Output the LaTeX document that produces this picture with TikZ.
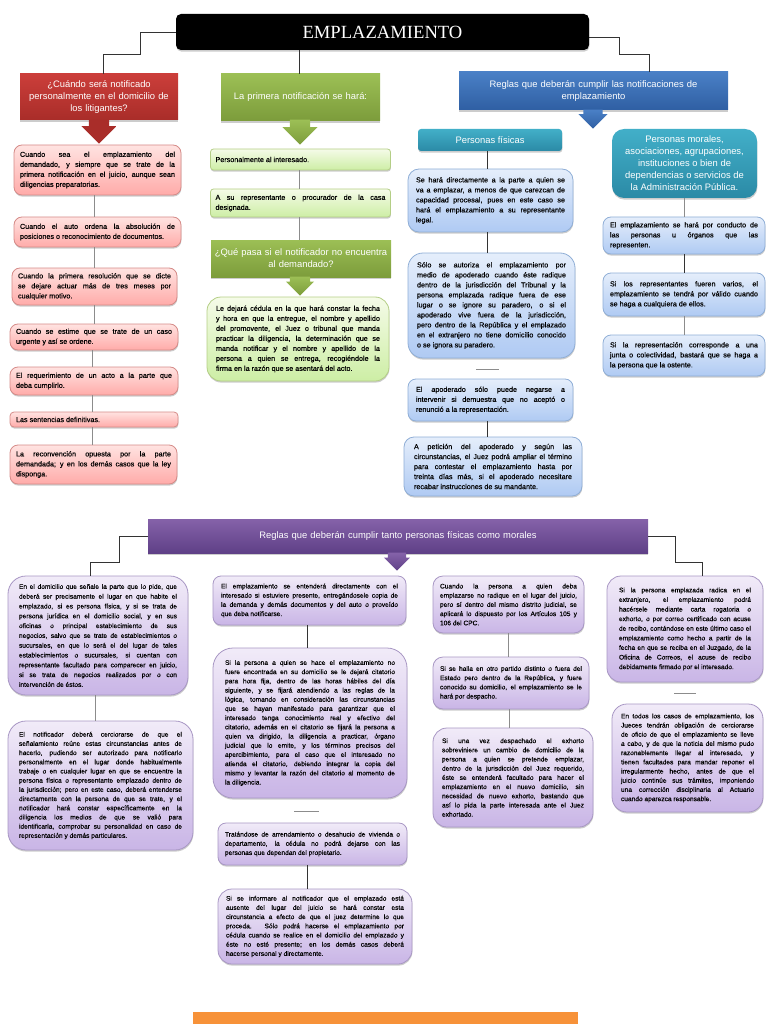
\documentclass[tikz,border=0pt]{standalone}
\usepackage{fontspec}
\setmainfont{Liberation Sans}
\newfontfamily\titlefont{Liberation Serif}
\newfontfamily\itemfont[FakeBold=0.25]{Liberation Sans}
\usetikzlibrary{shadows,shapes.arrows}

\definecolor{redtop}{HTML}{CB3E3A}
\definecolor{redbot}{HTML}{A92D29}
\definecolor{greentop}{HTML}{9CBF55}
\definecolor{greenbot}{HTML}{7C9C3B}
\definecolor{bluetop}{HTML}{4A80C6}
\definecolor{bluebot}{HTML}{2F5FA3}
\definecolor{violettop}{HTML}{8562A9}
\definecolor{violetbot}{HTML}{5F4087}
\definecolor{tealtop}{HTML}{42AFC8}
\definecolor{tealbot}{HTML}{2B8AA6}
\definecolor{orangefoot}{HTML}{F79239}
\definecolor{pinktop}{HTML}{FFE3E1}
\definecolor{pinkbot}{HTML}{FFABA9}
\definecolor{pinkedge}{HTML}{D58B88}
\definecolor{limetop}{HTML}{F5FBE8}
\definecolor{limebot}{HTML}{CDEEA5}
\definecolor{limeedge}{HTML}{B4CE86}
\definecolor{skytop}{HTML}{E5EEFB}
\definecolor{skybot}{HTML}{AFCAF3}
\definecolor{skyedge}{HTML}{8FAED6}
\definecolor{lilactop}{HTML}{F1EBF8}
\definecolor{lilacbot}{HTML}{C9B5E6}
\definecolor{lilacedge}{HTML}{A897C4}

\newcommand{\nl}{\linebreak}

\begin{document}
\begin{tikzpicture}
  [x=1pt,y=-1pt,
   box/.style n args={3}{text width=#1pt-2*#3pt,minimum height=#2pt,inner xsep=#3pt,inner ysep=0pt},
   leading/.style={font=\itemfont\fontsize{6.6}{#1}\selectfont\sloppy},
   softshadow/.style={drop shadow={shadow xshift=.4pt,shadow yshift=-1.6pt,fill=black!40}},
   head/.style={rectangle,softshadow,text=white,align=center,inner sep=0pt,
                font=\fontsize{9.4}{12}\selectfont},
   redhead/.style={head,top color=redtop,bottom color=redbot},
   greenhead/.style={head,top color=greentop,bottom color=greenbot},
   bluehead/.style={head,top color=bluetop,bottom color=bluebot},
   violethead/.style={head,top color=violettop,bottom color=violetbot},
   tealhead/.style={head,rounded corners=3pt,top color=tealtop,bottom color=tealbot},
   item/.style={rectangle,rounded corners=8pt,line width=.8pt,softshadow,align=justify,
                text=black,font=\itemfont\fontsize{7.2}{10}\selectfont\sloppy},
   pinkitem/.style={item,draw=pinkedge,top color=pinktop,bottom color=pinkbot},
   limeitem/.style={item,draw=limeedge,top color=limetop,bottom color=limebot},
   skyitem/.style={item,draw=skyedge,top color=skytop,bottom color=skybot},
   lilacitem/.style={item,draw=lilacedge,top color=lilactop,bottom color=lilacbot,
                     font=\itemfont\fontsize{6.6}{9.2}\selectfont\sloppy},
   downarrow/.style={single arrow,shape border rotate=270,anchor=tip,inner ysep=0pt,
                     single arrow tip angle=90},
   link/.style={draw=black!80,line width=.9pt},
   softlink/.style={draw=black!45,line width=.9pt}]
  \useasboundingbox (0,0) rectangle (768,1024);

  % title
  \node (title) at (382.5,32) [rectangle,rounded corners=5pt,fill=black,text=white,
        minimum width=413pt,minimum height=36pt,softshadow,
        font=\titlefont\fontsize{18.6}{20}\selectfont] {EMPLAZAMIENTO};

  % first row of headings
  \node (cuando) at (99,97) [redhead,text width=150pt,minimum width=158pt,minimum height=46pt]
        {¿Cuándo será notificado\\personalmente en el domicilio de\\los litigantes?};
  \node (primera) at (300.5,97.5) [greenhead,text width=150pt,minimum width=159pt,minimum height=47pt]
        {La primera notificación se hará:};
  \node (reglas) at (593.5,91) [bluehead,text width=260pt,minimum width=269pt,minimum height=38pt]
        {Reglas que deberán cumplir las notificaciones de\\emplazamiento};
  \node (cuandoarrow) at (99,144) [downarrow,top color=redbot,bottom color=redbot,inner xsep=10pt,
        minimum height=24pt,single arrow head extend=7.5pt] {};
  \node (primeraarrow) at (300,145) [downarrow,top color=greentop,bottom color=greenbot,inner xsep=10pt,
        minimum height=25pt,single arrow head extend=7.5pt] {};
  \node (reglasarrow) at (593,129) [downarrow,top color=bluetop,bottom color=bluebot,inner xsep=9.5pt,
        minimum height=19pt,single arrow head extend=5pt] {};

  % left column
  \node (sea) at (97.5,170) [pinkitem,box={167}{50}{6}]
        {Cuando sea el emplazamiento del\nl demandado, y siempre que se trate de la\nl primera notificación en el juicio, aunque sean\nl diligencias preparatorias.};
  \node (auto) at (97.5,232) [pinkitem,box={167}{30}{6}]
        {Cuando el auto ordena la absolución de\nl posiciones o reconocimiento de documentos.};
  \node (resolucion) at (94.5,286.5) [pinkitem,box={165}{37}{6}]
        {Cuando la primera resolución que se dicte\nl se dejare actuar más de tres meses por\nl cualquier motivo.};
  \node (estime) at (94,337) [pinkitem,box={168}{26}{6}]
        {Cuando se estime que se trate de un caso\nl urgente y así se ordene.};
  \node (requerimiento) at (94,381) [pinkitem,box={168}{28}{6}]
        {El requerimiento de un acto a la parte que\nl deba cumplirlo.};
  \node (sentencias) at (94,419.5) [pinkitem,rounded corners=4pt,box={168}{15}{6}]
        {Las sentencias definitivas.};
  \node (reconvencion) at (93.5,464.5) [pinkitem,box={167}{39}{6}]
        {La reconvención opuesta por la parte\nl demandada; y en los demás casos que la ley\nl disponga.};

  % second column
  \node (personal) at (300.5,159.5) [limeitem,rounded corners=3pt,box={180}{21}{5}]
        {Personalmente al interesado.};
  \node (representante) at (300.5,203) [limeitem,rounded corners=3pt,box={180}{28}{5}]
        {A su representante o procurador de la casa\nl designada.};
  \node (pasa) at (301,258.5) [greenhead,text width=178pt,minimum width=180pt,minimum height=37pt]
        {¿Qué pasa si el notificador no encuentra\\al demandado?};
  \node (pasaarrow) at (300,296) [downarrow,top color=greentop,bottom color=greenbot,inner xsep=10pt,
        minimum height=19pt,single arrow head extend=4pt] {};
  \node (cedula) at (298,339) [limeitem,rounded corners=14pt,box={182}{84}{9}]
        {Le dejará cédula en la que hará constar la fecha\nl y hora en que la entregue, el nombre y apellido\nl del promovente, el Juez o tribunal que manda\nl practicar la diligencia, la determinación que se\nl manda notificar y el nombre y apellido de la\nl persona a quien se entrega, recogiéndole la\nl firma en la razón que se asentará del acto.};

  % third column
  \node (fisicas) at (490,140) [tealhead,minimum width=144pt,minimum height=22pt]
        {Personas físicas};
  \node (directa) at (490.5,200.5) [skyitem,rounded corners=11pt,box={165}{63}{8}]
        {Se hará directamente a la parte a quien se\nl va a emplazar, a menos de que carezcan de\nl capacidad procesal, pues en este caso se\nl hará el emplazamiento a su representante\nl legal.};
  \node (autoriza) at (491.5,305.5) [skyitem,rounded corners=15pt,box={167}{105}{9}]
        {Sólo se autoriza el emplazamiento por\nl medio de apoderado cuando éste radique\nl dentro de la jurisdicción del Tribunal y la\nl persona emplazada radique fuera de ese\nl lugar o se ignore su paradero, o si el\nl apoderado vive fuera de la jurisdicción,\nl pero dentro de la República y el emplazado\nl en el extranjero no tiene domicilio conocido\nl o se ignora su paradero.};
  \coordinate (autorizaleft) at (476,369);
  \coordinate (autorizaright) at (499,369);
  \node (apoderado) at (490.5,400) [skyitem,box={165}{42}{8}]
        {El apoderado sólo puede negarse a\nl intervenir si demuestra que no aceptó o\nl renunció a la representación.};
  \node (peticion) at (493,466.5) [skyitem,rounded corners=10pt,box={178}{59}{10}]
        {A petición del apoderado y según las\nl circunstancias, el Juez podrá ampliar el término\nl para contestar el emplazamiento hasta por\nl treinta días más, si el apoderado necesitare\nl recabar instrucciones de su mandante.};

  % fourth column
  \node (morales) at (684.5,163.5) [tealhead,rounded corners=12pt,minimum width=145pt,minimum height=69pt]
        {Personas morales,\\asociaciones, agrupaciones,\\instituciones o bien de\\dependencias o servicios de\\la Administración Pública.};
  \node (conducto) at (684,235.5) [skyitem,box={162}{37}{7}]
        {El emplazamiento se hará por conducto de\nl las personas u órganos que las\nl representen.};
  \node (varios) at (684,294.5) [skyitem,box={162}{43}{7}]
        {Si los representantes fueren varios, el\nl emplazamiento se tendrá por válido cuando\nl se haga a cualquiera de ellos.};
  \node (junta) at (684,355.5) [skyitem,box={162}{41}{7}]
        {Si la representación corresponde a una\nl junta o colectividad, bastará que se haga a\nl la persona que la ostente.};

  % second block
  \node (ambas) at (398,536) [violethead,text width=490pt,minimum width=500pt,minimum height=34pt]
        {Reglas que deberán cumplir tanto personas físicas como morales};
  \node (ambasarrow) at (397,571) [downarrow,top color=violettop,bottom color=violetbot,inner xsep=9pt,
        minimum height=18pt,single arrow head extend=4pt] {};

  \node (domicilio) at (98,635.5) [lilacitem,rounded corners=18pt,leading=9.8,box={180}{119}{11}]
        {En el domicilio que señale la parte que lo pide, que\nl deberá ser precisamente el lugar en que habite el\nl emplazado, si es persona física, y si se trata de\nl persona jurídica en el domicilio social, y en sus\nl oficinas o principal establecimiento de sus\nl negocios, salvo que se trate de establecimientos o\nl sucursales, en que lo será el del lugar de tales\nl establecimientos o sucursales, si cuentan con\nl representante facultado para comparecer en juicio,\nl si se trata de negocios realizados por o con\nl intervención de éstos.};
  \node (notificador) at (100.5,785.5) [lilacitem,rounded corners=18pt,box={185}{129}{11}]
        {El notificador deberá cerciorarse de que el\nl señalamiento reúne estas circunstancias antes de\nl hacerlo, pudiendo ser autorizado para notificarlo\nl personalmente en el lugar donde habitualmente\nl trabaje o en cualquier lugar en que se encuentre la\nl persona física o representante emplazado dentro de\nl la jurisdicción; pero en este caso, deberá entenderse\nl directamente con la persona de que se trate, y el\nl notificador hará constar específicamente en la\nl diligencia los medios de que se valió para\nl identificarla, comprobar su personalidad en caso de\nl representación y demás particulares.};

  \node (entendera) at (309.5,600.5) [lilacitem,box={193}{49}{8}]
        {El emplazamiento se entenderá directamente con el\nl interesado si estuviere presente, entregándosele copia de\nl la demanda y demás documentos y del auto o proveído\nl que deba notificarse.};
  \node (encontrada) at (310,723) [lilacitem,rounded corners=20pt,box={194}{150}{12}]
        {Si la persona a quien se hace el emplazamiento no\nl fuere encontrada en su domicilio se le dejará citatorio\nl para hora fija, dentro de las horas hábiles del día\nl siguiente, y se fijará atendiendo a las reglas de la\nl lógica, tomando en consideración las circunstancias\nl que se hayan manifestado para garantizar que el\nl interesado tenga conocimiento real y efectivo del\nl citatorio, además en el citatorio se fijará la persona a\nl quien va dirigido, la diligencia a practicar, órgano\nl judicial que lo emite, y los términos precisos del\nl apercibimiento, para el caso que el interesado no\nl atienda el citatorio, debiendo integrar la copia del\nl mismo y levantar la razón del citatorio al momento de\nl la diligencia.};
  \coordinate (encontradaleft) at (294,811);
  \coordinate (encontradaright) at (319,811);
  \node (arrendamiento) at (312.5,844) [lilacitem,box={189}{42}{7}]
        {Tratándose de arrendamiento o desahucio de vivienda o\nl departamento, la cédula no podrá dejarse con las\nl personas que dependan del propietario.};
  \node (informare) at (315,926.5) [lilacitem,rounded corners=14pt,box={194}{75}{8}]
        {Si se informare al notificador que el emplazado está\nl ausente del lugar del juicio se hará constar esta\nl circunstancia a efecto de que el juez determine lo que\nl proceda. Sólo podrá hacerse el emplazamiento por\nl cédula cuando se realice en el domicilio del emplazado y\nl éste no esté presente; en los demás casos deberá\nl hacerse personal y directamente.};

  \node (radique) at (508.5,604.5) [lilacitem,rounded corners=10pt,box={151}{57}{7}]
        {Cuando la persona a quien deba\nl emplazarse no radique en el lugar del juicio,\nl pero sí dentro del mismo distrito judicial, se\nl aplicará lo dispuesto por los Artículos 105 y\nl 106 del CPC.};
  \node (partido) at (511,683) [lilacitem,rounded corners=10pt,box={156}{52}{7}]
        {Si se halla en otro partido distinto o fuera del\nl Estado pero dentro de la República, y fuere\nl conocido su domicilio, el emplazamiento se le\nl hará por despacho.};
  \node (exhorto) at (513,777.5) [lilacitem,rounded corners=14pt,box={160}{99}{9}]
        {Si una vez despachado el exhorto\nl sobreviniere un cambio de domicilio de la\nl persona a quien se pretende emplazar,\nl dentro de la jurisdicción del Juez requerido,\nl éste se entenderá facultado para hacer el\nl emplazamiento en el nuevo domicilio, sin\nl necesidad de nuevo exhorto, bastando que\nl así lo pida la parte interesada ante el Juez\nl exhortado.};

  \node (extranjero) at (685,629) [lilacitem,rounded corners=14pt,leading=9.6,box={156}{106}{12}]
        {Si la persona emplazada radica en el\nl extranjero, el emplazamiento podrá\nl hacérsele mediante carta rogatoria o\nl exhorto, o por correo certificado con acuse\nl de recibo, contándose en este último caso el\nl emplazamiento como hecho a partir de la\nl fecha en que se reciba en el Juzgado, de la\nl Oficina de Correos, el acuse de recibo\nl debidamente firmado por el interesado.};
  \coordinate (extranjeroleft) at (674,693);
  \coordinate (extranjeroright) at (696,693);
  \node (jueces) at (687.5,758) [lilacitem,rounded corners=15pt,box={151}{108}{9}]
        {En todos los casos de emplazamiento, los\nl Jueces tendrán obligación de cerciorarse\nl de oficio de que el emplazamiento se lleve\nl a cabo, y de que la noticia del mismo pudo\nl razonablemente llegar al interesado, y\nl tienen facultades para mandar reponer el\nl irregularmente hecho, antes de que el\nl juicio continúe sus trámites, imponiendo\nl una corrección disciplinaria al Actuario\nl cuando aparezca responsable.};

  % strip at the foot of the page
  \node (pie) at (385.5,1018) [rectangle,fill=orangefoot,
        minimum width=385pt,minimum height=12pt,inner sep=0pt] {};

  % connectors, title to headings
  \draw[link] (title.west) -| (140,54) -| ([xshift=4pt]cuando.north);
  \draw[link] ([yshift=-5pt]title.east) -| (619,54) -| ([xshift=55.5pt]reglas.north);
  \draw[link] ([xshift=-83.5pt]title.south) -- ([xshift=-1.5pt]primera.north);

  % connectors, left column
  \draw[softlink] ([xshift=-3pt]sea.south) -- ([xshift=-3pt]sea.south |- auto.north);
  \draw[softlink] ([xshift=-3pt]auto.south) -- ([xshift=-3pt]auto.south |- resolucion.north);
  \draw[softlink] (resolucion.south) -- (resolucion.south |- estime.north);
  \draw[softlink] ([xshift=-2pt]estime.south) -- ([xshift=-2pt]estime.south |- requerimiento.north);
  \draw[softlink] ([xshift=-2pt]requerimiento.south) -- ([xshift=-2pt]requerimiento.south |- sentencias.north);
  \draw[softlink] ([xshift=-2pt]sentencias.south) -- ([xshift=-2pt]sentencias.south |- reconvencion.north);

  % connectors, second column
  \draw[softlink] ([xshift=-1.5pt]personal.south) -- ([xshift=-1.5pt]personal.south |- representante.north);
  \draw[softlink] ([xshift=-1.5pt]representante.south) -- ([xshift=-1.5pt]representante.south |- pasa.north);

  % connectors, third column
  \draw[link] ([xshift=-3pt]fisicas.south) -- ([xshift=-3pt]fisicas.south |- directa.north);
  \draw[link] ([xshift=-3.5pt]directa.south) -- ([xshift=-3.5pt]directa.south |- autoriza.north);
  \draw[softlink] (autorizaleft) -- (autorizaright);
  \draw[link] ([xshift=-3.5pt]apoderado.south) -- ([xshift=-3.5pt]apoderado.south |- peticion.north);

  % connectors, fourth column
  \draw[softlink] (morales.south) -- (morales.south |- conducto.north);
  \draw[link] (conducto.south) -- (conducto.south |- varios.north);
  \draw[softlink] (varios.south) -- (varios.south |- junta.north);

  % connectors, second block
  \draw[link] (ambas.west) -| (119,562) -| ([xshift=-8pt]domicilio.north);
  \draw[link] (ambas.east) -| (675,562) -| ([xshift=17pt]extranjero.north);
  \draw[softlink] ([xshift=-3pt]domicilio.south) -- ([xshift=-3pt]domicilio.south |- notificador.north);
  \draw[link] ([xshift=-2.5pt]entendera.south) -- ([xshift=-2.5pt]entendera.south |- encontrada.north);
  \draw[softlink] (encontradaleft) -- (encontradaright);
  \draw[link] ([xshift=-5.5pt]arrendamiento.south) -- ([xshift=-5.5pt]arrendamiento.south |- informare.north);
  \draw[softlink] (radique.south) -- (radique.south |- partido.north);
  \draw[softlink] ([xshift=-2pt]partido.south) -- ([xshift=-2pt]partido.south |- exhorto.north);
  \draw[softlink] (extranjeroleft) -- (extranjeroright);
\end{tikzpicture}
\end{document}
